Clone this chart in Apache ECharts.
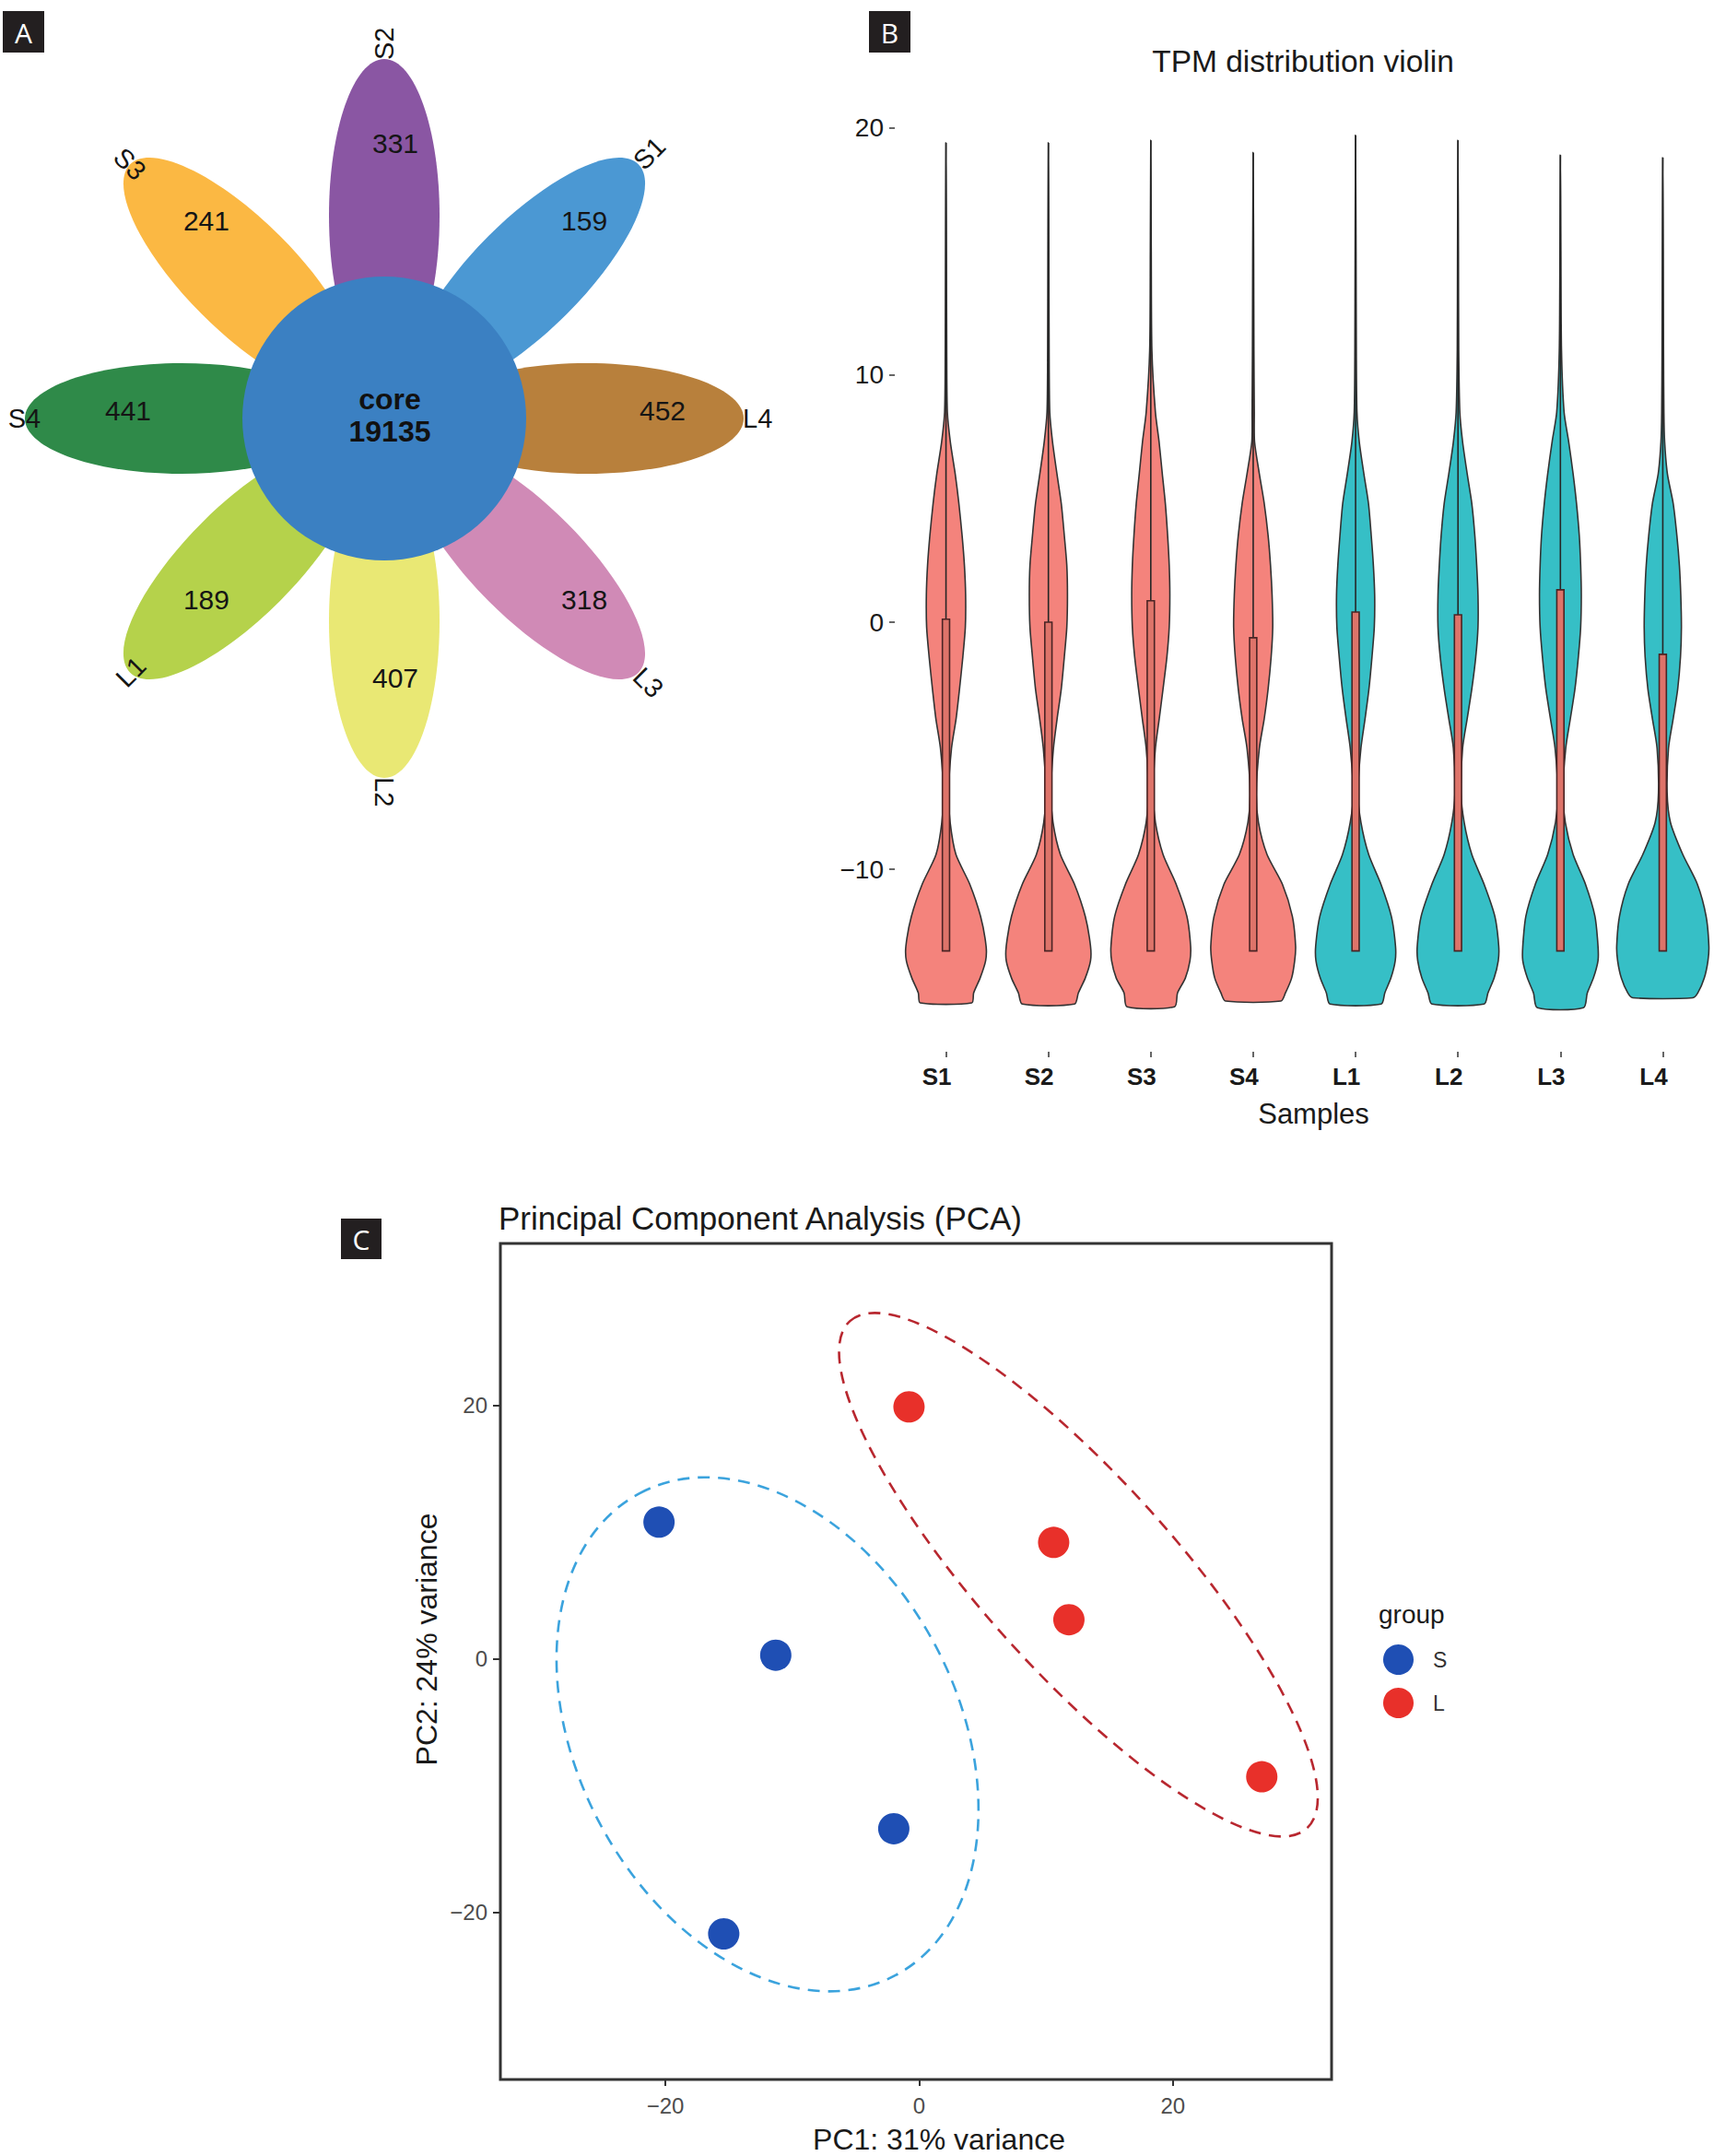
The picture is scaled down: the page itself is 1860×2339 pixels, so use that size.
<!DOCTYPE html>
<html>
<head>
<meta charset="utf-8">
<title>Flower plot, TPM violin and PCA</title>
<script src="https://cdn.jsdelivr.net/npm/echarts@6/dist/echarts.min.js"></script>
<style>
  html, body { margin: 0; padding: 0; background: #fff; }
  #chart { width: 1860px; height: 2339px; }
</style>
</head>
<body>
<div id="chart"></div>
<script>
// ---------- A: flower plot (petals counter-clockwise, starting at the top) ----------
const petalNames = ['S2', 'S3', 'S4', 'L1', 'L2', 'L3', 'L4', 'S1'];
const petalCounts = [331, 241, 441, 189, 407, 318, 452, 159];
const coreCount = 19135;
const petalColors = ['#8a56a3', '#fbb843', '#2f8a49', '#b5d24b', '#e9e874', '#d08ab6', '#b8803c', '#4b98d3'];

// ---------- B: TPM violins ----------
const samples = ['S1', 'S2', 'S3', 'S4', 'L1', 'L2', 'L3', 'L4'];
const sampleGroup = ['S', 'S', 'S', 'S', 'L', 'L', 'L', 'L'];
// density at these levels (arbitrary units, widest = 50)
const densityLevels = [15, 11, 8.5, 7.3, 6, 4.8, 3.5, 2.3, 1.1, -0.2, -1.4, -2.7, -3.9, -5.1, -6.9, -8.1, -9.4, -10.6, -11.9, -13.1, -13.7, -14.4, -15];
const densityS1 = [0.5, 0.8, 1.5, 4.7, 10, 14, 17.5, 20, 21.3, 21, 18.3, 14.7, 11, 6, 2.8, 4.5, 10.8, 25.8, 37.5, 43.5, 43, 37, 30];
const densityS2 = [0.5, 0.8, 1.5, 4.5, 9.3, 14, 17.3, 20, 20.7, 20, 17.3, 14, 9.5, 5.5, 2.7, 5, 13, 28.3, 40, 45.7, 45.7, 40, 32.5];
const densityS3 = [0.5, 1.2, 5, 9, 12.5, 15.8, 18.3, 20, 20.7, 20, 17.5, 13.3, 9.2, 5, 2.5, 5, 13.3, 27.5, 39.2, 43.2, 42.5, 37.5, 29];
const densityS4 = [0.5, 0.8, 1.2, 1.5, 6.7, 12, 16.2, 18.8, 20.5, 21.2, 19.5, 16.2, 12, 6.7, 3.3, 5.7, 15, 31.7, 42.5, 46, 45, 41.7, 35];
const densityL1 = [0.5, 0.8, 1.5, 4, 9, 14, 17, 19.3, 20.7, 20.3, 17.8, 14.5, 10.3, 5.8, 2.5, 5.8, 14.2, 27.5, 38.8, 43.3, 43, 38.3, 31.7];
const densityL2 = [0.5, 0.8, 2, 5, 10, 15, 18.3, 20.3, 21.7, 21.7, 19.3, 15, 10, 5, 3.3, 6.7, 15, 28.3, 40, 44.2, 43.7, 39.2, 32.5];
const densityL3 = [0.5, 1.2, 4, 9, 13.8, 17.5, 20.5, 22, 22.7, 22, 19.5, 15.8, 10.8, 5.8, 2.8, 5.3, 13.8, 27.2, 37.5, 40.8, 40.8, 35.8, 29.2];
const densityL4 = [0.5, 0.8, 1.2, 2, 5, 11.3, 15.3, 18, 19.5, 20.2, 19.2, 16.2, 11.3, 6.2, 4.7, 8.3, 21.7, 37.5, 47, 50, 49, 45, 38];
const violinTop = [19.4, 19.4, 19.5, 19.0, 19.7, 19.5, 18.9, 18.8];
const violinBottom = [-15.4, -15.45, -15.56, -15.33, -15.45, -15.45, -15.6, -15.2];
const violinBottomDensity = [28, 28.3, 25.8, 30, 27.8, 28.3, 25, 32.5];
const boxLower = [-13.3, -13.3, -13.3, -13.3, -13.3, -13.3, -13.3, -13.3];
const boxUpper = [0.12, 0.0, 0.87, -0.63, 0.41, 0.3, 1.31, -1.3];
const violinYTicks = [-10, 0, 10, 20];

// ---------- C: PCA ----------
const pcaS = [[-20.5, 10.8], [-11.3, 0.3], [-2.0, -13.4], [-15.4, -21.7]];
const pcaL = [[-0.8, 19.9], [10.6, 9.2], [11.8, 3.1], [27.0, -9.3]];
// ellipse: centre x, centre y, semi-major, semi-minor, angle (deg)
const ellipseS = [-11.95, -5.95, 21.5, 15, -62];
const ellipseL = [12.55, 6.65, 26.9, 7.6, -48];
const pcaTicks = [-20, 0, 20];

const FONT = 'Liberation Sans, Arial, sans-serif';
const densityRows = [densityS1, densityS2, densityS3, densityS4, densityL1, densityL2, densityL3, densityL4];
const maxDensity = Math.max(...densityRows.map(r => Math.max(...r)));
const minus = v => String(v).replace('-', '\u2212');

// flower geometry, in units of the hidden square axes
const PETAL_DIST = 0.55, PETAL_A = 0.425, PETAL_B = 0.15, CORE_R = 0.385;
const COUNT_DIST = 0.725;
const NAME_DIST_RIGHT = 0.932, NAME_DIST_LEFT = 0.9725;   // anchor distance for right / left aligned names
const COUNT_SHIFT = [12, -9];   // the counts sit a little off the petal axes in the original
const petalAngle = i => 90 + 360 / petalNames.length * i;

function renderPetal(params, api) {
    const i = params.dataIndex;
    const phi = petalAngle(i) * Math.PI / 180;
    const c = api.coord([PETAL_DIST * Math.cos(phi), PETAL_DIST * Math.sin(phi)]);
    const u = api.size([1, 1]);
    return {
        type: 'ellipse',
        x: c[0], y: c[1], rotation: phi,
        shape: { cx: 0, cy: 0, rx: PETAL_A * u[0], ry: PETAL_B * u[1] },
        style: { fill: petalColors[i] }
    };
}

function renderPetalText(params, api) {
    const i = params.dataIndex;
    const deg = petalAngle(i);
    const phi = deg * Math.PI / 180;
    // same rule the flower plot uses to keep sample names readable
    const rel = deg - 90;
    const firstHalf = rel > 0 && rel < 180;
    const srt = firstHalf ? deg - 180 : deg;
    const nd = firstHalf ? NAME_DIST_RIGHT : NAME_DIST_LEFT;
    const pn = api.coord([COUNT_DIST * Math.cos(phi), COUNT_DIST * Math.sin(phi)]);
    const pl = api.coord([nd * Math.cos(phi), nd * Math.sin(phi)]);
    return {
        type: 'group',
        children: [
            { type: 'text', x: pn[0] + COUNT_SHIFT[0], y: pn[1] + COUNT_SHIFT[1],
              style: { text: String(api.value(2)), fontSize: 30, fontFamily: FONT, fill: '#151515', align: 'center', verticalAlign: 'middle' } },
            { type: 'text', x: pl[0], y: pl[1], rotation: srt * Math.PI / 180,
              style: { text: petalNames[i], fontSize: 29, fontFamily: FONT, fill: '#151515', align: firstHalf ? 'right' : 'left', verticalAlign: 'middle' } }
        ]
    };
}

function renderCore(params, api) {
    const c = api.coord([0, 0]);
    const r = CORE_R * api.size([1, 1])[0];
    return {
        type: 'group',
        children: [
            { type: 'circle', shape: { cx: c[0], cy: c[1], r: r }, style: { fill: '#3b80c2' } },
            { type: 'text', x: c[0] + 6, y: c[1] - 4,
              style: { text: 'core\n' + api.value(2), fontSize: 32, fontWeight: 'bold', lineHeight: 35, fontFamily: FONT, fill: '#111', align: 'center', verticalAlign: 'middle' } }
        ]
    };
}

function renderViolin(params, api) {
    const i = params.dataIndex;
    const band = api.size([1, 0])[0];
    const k = 0.45 * band / maxDensity;
    const dens = densityRows[i];
    const cx = api.coord([i, 0])[0];
    const yPx = v => api.coord([i, v])[1];
    const wb = violinBottomDensity[i] * k;
    const yb = yPx(violinBottom[i]);
    const pts = [[cx + wb, yb]];
    for (let j = densityLevels.length - 1; j >= 0; j--) pts.push([cx + dens[j] * k, yPx(densityLevels[j])]);
    pts.push([cx, yPx(violinTop[i])]);
    for (let j = 0; j < densityLevels.length; j++) pts.push([cx - dens[j] * k, yPx(densityLevels[j])]);
    pts.push([cx - wb, yb]);
    const fill = sampleGroup[i] === 'S' ? '#f4837c' : '#36bfc6';
    const bw = 0.07 * band;
    const yUp = yPx(boxUpper[i]), yLo = yPx(boxLower[i]);
    return {
        type: 'group',
        children: [
            { type: 'polygon', shape: { points: pts, smooth: 0.25 }, style: { fill: fill, stroke: '#333', lineWidth: 1.6 } },
            { type: 'line', shape: { x1: cx, y1: yUp, x2: cx, y2: yPx(violinTop[i]) }, style: { stroke: '#262626', lineWidth: 1.6 } },
            { type: 'rect', shape: { x: cx - bw / 2, y: yUp, width: bw, height: yLo - yUp }, style: { fill: '#de746a', stroke: '#4a2424', lineWidth: 1.6 } }
        ]
    };
}

function renderEllipse(color) {
    return function (params, api) {
        const c = api.coord([api.value(0), api.value(1)]);
        const sx = api.size([1, 0])[0];
        const sy = api.size([0, 1])[1];
        return {
            type: 'ellipse',
            x: c[0], y: c[1], rotation: api.value(4) * Math.PI / 180,
            shape: { cx: 0, cy: 0, rx: api.value(2) * sx, ry: api.value(3) * sy },
            style: { fill: 'none', stroke: color, lineWidth: 2.6, lineDash: [13, 9] }
        };
    };
}

const hiddenAxis = { show: false, type: 'value', min: -1.04, max: 1.04 };

const option = {
    animation: false,
    backgroundColor: '#fff',
    textStyle: { fontFamily: FONT },
    grid: [
        { left: 1, top: 38, width: 832, height: 832, show: false },
        { left: 971, top: 112, width: 901, height: 992, show: false },
        { left: 543, top: 1349, width: 902, height: 907, show: true, borderColor: '#333', borderWidth: 3, backgroundColor: '#fff' }
    ],
    xAxis: [
        Object.assign({ gridIndex: 0 }, hiddenAxis),
        {
            gridIndex: 1, type: 'category', data: samples, offset: 37,
            axisLine: { show: false, onZero: false },
            axisTick: { show: true, alignWithLabel: true, length: 6, lineStyle: { color: '#333', width: 1.5 } },
            axisLabel: { margin: 14, fontSize: 26, fontWeight: 'bold', color: '#1a1a1a', fontFamily: FONT, padding: [0, 20, 0, 0] },
            name: 'Samples', nameLocation: 'middle', nameGap: 52,
            nameTextStyle: { fontSize: 31, color: '#1a1a1a', fontFamily: FONT, padding: [0, 0, 0, 20] }
        },
        {
            gridIndex: 2, type: 'value', min: -33.0, max: 32.5,
            axisLine: { show: false, onZero: false }, splitLine: { show: false },
            axisTick: { show: true, customValues: pcaTicks, length: 7, lineStyle: { color: '#333', width: 2 } },
            axisLabel: { customValues: pcaTicks, margin: 16, fontSize: 24, color: '#4d4d4d', formatter: minus },
            name: 'PC1: 31% variance', nameLocation: 'middle', nameGap: 49,
            nameTextStyle: { fontSize: 32, color: '#1a1a1a', padding: [0, 0, 0, 50] }
        }
    ],
    yAxis: [
        Object.assign({ gridIndex: 0 }, hiddenAxis),
        {
            gridIndex: 1, type: 'value', min: -16, max: 21,
            axisLine: { show: false, onZero: false }, splitLine: { show: false },
            axisTick: { show: true, customValues: violinYTicks, length: 6, lineStyle: { color: '#333', width: 1.5 } },
            axisLabel: { customValues: violinYTicks, margin: 12, fontSize: 28, color: '#1a1a1a', formatter: minus }
        },
        {
            gridIndex: 2, type: 'value', min: -33.2, max: 32.8,
            axisLine: { show: false, onZero: false }, splitLine: { show: false },
            axisTick: { show: true, customValues: pcaTicks, length: 8, lineStyle: { color: '#333', width: 2 } },
            axisLabel: { customValues: pcaTicks, margin: 14, fontSize: 24, color: '#4d4d4d', formatter: minus },
            name: 'PC2: 24% variance', nameLocation: 'middle', nameGap: 64, nameRotate: 90,
            nameTextStyle: { fontSize: 32, color: '#1a1a1a', padding: [0, 0, 0, 48] }
        }
    ],
    legend: {
        data: ['S', 'L'], orient: 'vertical', left: 1501, top: 1784, padding: 0,
        itemWidth: 33, itemHeight: 33, itemGap: 14, icon: 'circle',
        textStyle: { fontSize: 23, color: '#333', padding: [0, 0, 0, 16] }
    },
    graphic: [
        { type: 'rect', left: 3, top: 12, shape: { width: 45, height: 45 }, style: { fill: '#231f20' } },
        { type: 'text', x: 25.5, y: 35, style: { text: 'A', fill: '#fff', fontSize: 30, fontFamily: 'Open Sans', align: 'center', verticalAlign: 'middle' } },
        { type: 'rect', left: 943, top: 12, shape: { width: 45, height: 45 }, style: { fill: '#231f20' } },
        { type: 'text', x: 965.5, y: 35, style: { text: 'B', fill: '#fff', fontSize: 30, fontFamily: 'Open Sans', align: 'center', verticalAlign: 'middle' } },
        { type: 'rect', left: 370, top: 1322, shape: { width: 44, height: 44 }, style: { fill: '#231f20' } },
        { type: 'text', x: 392, y: 1344, style: { text: 'C', fill: '#fff', fontSize: 30, fontFamily: 'Open Sans', align: 'center', verticalAlign: 'middle' } },
        { type: 'text', x: 1414, y: 66, style: { text: 'TPM distribution violin', fill: '#1a1a1a', fontSize: 33.5, fontFamily: FONT, align: 'center', verticalAlign: 'middle' } },
        { type: 'text', x: 541, y: 1321, style: { text: 'Principal Component Analysis (PCA)', fill: '#1a1a1a', fontSize: 35, fontFamily: FONT, align: 'left', verticalAlign: 'middle' } },
        { type: 'text', x: 1496, y: 1751, style: { text: 'group', fill: '#1a1a1a', fontSize: 28, fontFamily: FONT, align: 'left', verticalAlign: 'middle' } }
    ],
    series: [
        {
            type: 'custom', xAxisIndex: 0, yAxisIndex: 0, z: 2,
            data: petalCounts.map(c => [0, 0, c]),
            encode: { x: 0, y: 1 },
            renderItem: renderPetal
        },
        {
            type: 'custom', xAxisIndex: 0, yAxisIndex: 0, z: 3,
            data: [[0, 0, coreCount]],
            encode: { x: 0, y: 1 },
            renderItem: renderCore
        },
        {
            type: 'custom', xAxisIndex: 0, yAxisIndex: 0, z: 4,
            data: petalCounts.map(c => [0, 0, c]),
            encode: { x: 0, y: 1 },
            renderItem: renderPetalText
        },
        {
            type: 'custom', xAxisIndex: 1, yAxisIndex: 1, z: 2,
            data: samples.map((s, i) => [i, boxLower[i], boxUpper[i], violinTop[i], violinBottom[i]]),
            encode: { x: 0, y: [1, 2, 3, 4] },
            renderItem: renderViolin
        },
        {
            type: 'custom', xAxisIndex: 2, yAxisIndex: 2, z: 2,
            data: [ellipseS], encode: { x: 0, y: 1 },
            renderItem: renderEllipse('#3ba3dd')
        },
        {
            type: 'custom', xAxisIndex: 2, yAxisIndex: 2, z: 2,
            data: [ellipseL], encode: { x: 0, y: 1 },
            renderItem: renderEllipse('#b8272f')
        },
        {
            name: 'S', type: 'scatter', xAxisIndex: 2, yAxisIndex: 2, z: 3,
            symbolSize: 34, data: pcaS, itemStyle: { color: '#1f4fb4', opacity: 1 }
        },
        {
            name: 'L', type: 'scatter', xAxisIndex: 2, yAxisIndex: 2, z: 3,
            symbolSize: 34, data: pcaL, itemStyle: { color: '#e8302a', opacity: 1 }
        }
    ]
};

const myChart = echarts.init(document.getElementById('chart'), null, { renderer: 'svg' });
myChart.setOption(option);
window.addEventListener('resize', myChart.resize);
</script>
</body>
</html>
